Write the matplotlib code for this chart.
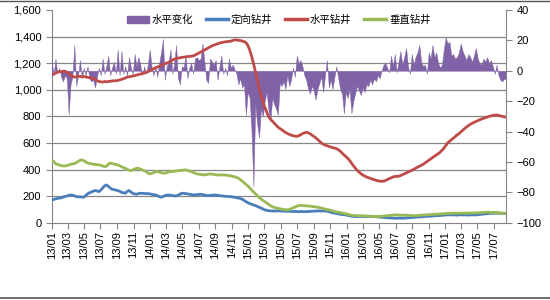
import pandas as pd
import numpy as np
import matplotlib
matplotlib.use('Agg')
import matplotlib.pyplot as plt
import matplotlib.dates as mdates
from matplotlib.lines import Line2D
from matplotlib.ticker import FuncFormatter

plt.rcParams['font.family'] = ['Liberation Sans', 'Noto Sans CJK SC']

# weekly rig counts, first week 2013-01-04
weeks = pd.date_range('2013-01-04', periods=242, freq='7D')

horizontal = [
    1112, 1118, 1125, 1132, 1137, 1135, 1140, 1140, 1132, 1122,
    1110, 1100, 1095, 1098, 1102, 1100, 1098, 1100, 1096, 1094,
    1090, 1088, 1087, 1080, 1070, 1062, 1060, 1058, 1062, 1060,
    1062, 1064, 1066, 1068, 1067, 1070, 1074, 1078, 1083, 1088,
    1095, 1097, 1100, 1104, 1106, 1110, 1114, 1118, 1122, 1126,
    1130, 1136, 1142, 1150, 1158, 1165, 1170, 1176, 1182, 1190,
    1195, 1200, 1206, 1213, 1222, 1230, 1234, 1238, 1240, 1243,
    1245, 1247, 1250, 1250, 1252, 1255, 1260, 1268, 1276, 1283,
    1290, 1298, 1306, 1314, 1322, 1330, 1335, 1340, 1346, 1350,
    1355, 1357, 1360, 1362, 1363, 1365, 1370, 1375, 1374, 1372,
    1370, 1366, 1362, 1355, 1335, 1300, 1255, 1200, 1140, 1080,
    1020, 960, 915, 870, 835, 800, 780, 765, 750, 735,
    720, 710, 700, 690, 680, 672, 665, 660, 655, 652,
    650, 655, 662, 670, 676, 680, 678, 670, 660, 650,
    640, 628, 615, 600, 592, 585, 580, 575, 570, 566,
    562, 558, 550, 540, 525, 512, 500, 485, 470, 450,
    430, 412, 395, 382, 370, 360, 352, 345, 340, 335,
    330, 325, 320, 316, 314, 312, 314, 318, 325, 332,
    338, 345, 348, 350, 350, 355, 362, 368, 375, 382,
    388, 395, 402, 410, 418, 425, 432, 440, 450, 460,
    470, 480, 490, 500, 510, 520, 530, 545, 560, 580,
    600, 612, 624, 635, 648, 660, 670, 683, 695, 708,
    720, 730, 740, 748, 755, 762, 768, 774, 780, 785,
    790, 795, 800, 804, 807, 810, 810, 808, 804, 800,
    797, 795,
]

directional = [
    173, 176, 180, 184, 186, 188, 194, 198, 202, 206,
    210, 208, 204, 198, 195, 196, 194, 193, 205, 218,
    226, 232, 238, 243, 240, 235, 245, 262, 278, 285,
    275, 262, 253, 250, 246, 243, 238, 230, 226, 223,
    236, 243, 232, 222, 218, 215, 220, 223, 222, 221,
    220, 220, 218, 215, 212, 210, 205, 198, 193, 198,
    205, 208, 210, 208, 205, 203, 203, 208, 215, 223,
    222, 220, 218, 216, 213, 211, 210, 212, 214, 215,
    213, 210, 207, 205, 206, 208, 210, 209, 207, 205,
    203, 202, 200, 199, 198, 197, 195, 193, 190, 187,
    183, 178, 170, 160, 152, 146, 140, 135, 130, 124,
    118, 112, 105, 98, 95, 92, 90, 90, 89, 90,
    90, 91, 89, 88, 88, 87, 88, 86, 85, 86,
    85, 84, 86, 85, 84, 85, 85, 86, 88, 88,
    89, 90, 90, 89, 90, 89, 88, 85, 80, 76,
    73, 71, 68, 65, 63, 61, 60, 57, 54, 51,
    49, 48, 47, 48, 49, 48, 48, 47, 48, 49,
    48, 48, 47, 45, 44, 42, 41, 40, 39, 38,
    37, 36, 35, 35, 36, 36, 35, 36, 37, 38,
    39, 40, 42, 43, 44, 45, 46, 47, 48, 49,
    50, 51, 52, 53, 54, 55, 56, 57, 58, 60,
    60, 61, 60, 60, 60, 59, 60, 61, 60, 60,
    60, 59, 60, 61, 60, 60, 62, 63, 65, 66,
    68, 69, 71, 73, 72, 72, 73, 72, 72, 72,
    71, 70,
]

vertical = [
    473, 462, 445, 440, 435, 430, 428, 428, 430, 435,
    440, 443, 445, 452, 462, 470, 473, 468, 458, 450,
    447, 444, 441, 439, 437, 436, 432, 428, 423, 425,
    440, 449, 446, 442, 438, 436, 430, 422, 415, 411,
    402, 396, 393, 398, 405, 410, 411, 405, 398, 393,
    385, 375, 368, 372, 378, 383, 386, 382, 378, 375,
    373, 378, 382, 386, 386, 388, 390, 392, 393, 395,
    397, 398, 394, 390, 386, 380, 374, 368, 366, 364,
    362, 360, 362, 366, 368, 366, 364, 362, 360, 360,
    360, 360, 360, 358, 355, 353, 350, 346, 342, 336,
    326, 315, 303, 290, 278, 263, 248, 234, 220, 206,
    192, 180, 170, 160, 150, 140, 130, 122, 116, 112,
    110, 106, 104, 101, 99, 98, 100, 106, 114, 118,
    125, 130, 132, 130, 129, 128, 127, 126, 124, 122,
    120, 118, 115, 112, 108, 104, 101, 98, 94, 90,
    86, 83, 80, 77, 74, 71, 69, 65, 62, 58,
    56, 55, 54, 54, 53, 53, 53, 52, 51, 50,
    49, 48, 48, 48, 49, 50, 52, 53, 54, 55,
    57, 59, 60, 60, 59, 58, 58, 58, 58, 57,
    56, 55, 55, 55, 56, 57, 58, 59, 60, 61,
    62, 63, 64, 65, 66, 66, 67, 68, 69, 70,
    71, 72, 72, 73, 73, 73, 72, 73, 74, 73,
    73, 74, 74, 75, 75, 75, 76, 77, 78, 79,
    80, 80, 80, 79, 79, 78, 78, 77, 75, 73,
    72, 72,
]

# weekly change of horizontal rigs (right axis)
horiz_change = [
    7, -3, 8, -2, 2, -4, -7, -3, -5, -29,
    -9, -4, 17, -10, -3, 7, -5, 2, -3, 3,
    -5, -7, -6, -11, -4, 2, -3, 8, -2, 3,
    10, -3, 2, 6, -2, 14, -3, 13, -2, 3,
    -3, 9, 2, -2, 11, 3, 9, 4, -3, 3,
    -2, 4, 14, 2, -3, 3, -4, 5, 12, 21,
    -6, 3, 6, 14, -2, 5, 17, -5, -9, 3,
    2, 10, -5, 2, 5, -2, 8, 9, 7, 8,
    18, 6, -6, -8, 8, 6, 4, 7, -6, 3,
    10, -2, 2, -3, 8, 2, 4, 1, -2, -9,
    -5, -11, -9, -29, -14, -18, -40, -76, -22, -35,
    -44, -25, -30, -20, -14, -26, -33, -18, -22, -25,
    -29, -8, -10, -7, -12, -3, -10, -6, 2, -4,
    10, 5, 7, 3, -3, -6, -12, -15, -10, -13,
    -19, -12, -8, -4, -14, -3, 7, -11, -6, -12,
    -4, 3, -5, -12, -15, -28, -14, -18, -12, -28,
    -20, -15, -10, -13, -16, -11, -14, -9, -10, -6,
    -9, -5, -7, -3, -5, 0, 4, 5, 2, -1,
    10, 3, 11, -1, 6, 13, 4, 9, 15, 3,
    -2, 11, 4, 9, 12, 17, 6, 3, 4, -2,
    12, 8, 17, 9, 12, 5, 2, 4, 14, 22,
    18, 19, 10, 11, 8, 9, 12, 18, 13, 10,
    7, 11, 9, 6, 10, 15, 8, 5, 4, 8,
    6, 9, 5, 7, 3, -2, 4, -3, -6, -7,
    -5, -6,
]

tick_dates = pd.date_range('2013-01-04', periods=28, freq=pd.DateOffset(months=2))

c_purple = '#7F63A6'
c_blue = '#4A7EBB'
c_red = '#BE4B48'
c_green = '#98B954'
c_axis = '#868686'

fig = plt.figure(figsize=(5.5, 3), dpi=100)
ax = fig.add_axes([0.094, 0.257, 0.826, 0.71])
ax_area = ax.twinx()
ax_lines = ax.twinx()

# left axis + grid
ax.set_ylim(0, 1600)
ax.set_yticks(range(0, 1601, 200))
ax.yaxis.set_major_formatter(FuncFormatter(lambda v, p: f'{int(v):,}'))
for y in range(200, 1401, 200):
    ax.axhline(y, color=c_axis, lw=0.9, zorder=0)

# area on right axis
ax_area.fill_between(weeks, 0, horiz_change, color=c_purple, lw=0.3, edgecolor=c_purple)
ax_area.set_ylim(-100, 40)
ax_area.set_yticks(range(-100, 41, 20))

# lines share the left scale
ax_lines.set_ylim(0, 1600)
ax_lines.plot(weeks, directional, color=c_blue, lw=2)
ax_lines.plot(weeks, horizontal, color=c_red, lw=2)
ax_lines.plot(weeks, vertical, color=c_green, lw=2)
ax_lines.set_yticks([])
for s in ax_lines.spines.values():
    s.set_visible(False)

for a in (ax, ax_area, ax_lines):
    a.set_xlim(weeks[0], weeks[-1])
    a.spines['top'].set_visible(False)

ax.set_xticks(tick_dates)
ax.xaxis.set_major_formatter(mdates.DateFormatter('%y/%m'))
plt.setp(ax.get_xticklabels(), rotation=90)

for a in (ax, ax_area):
    for s in ('left', 'right', 'bottom'):
        a.spines[s].set_color(c_axis)
    a.tick_params(colors=c_axis, labelcolor='black', labelsize=8, length=4, width=0.8)
ax.spines['right'].set_visible(False)
ax_area.spines['left'].set_visible(False)
ax_area.spines['bottom'].set_visible(False)
ax.tick_params(axis='x', pad=2)

handles = [
    plt.Rectangle((0, 0), 1, 1, color=c_purple),
    Line2D([], [], color=c_blue, lw=2.5),
    Line2D([], [], color=c_red, lw=2.5),
    Line2D([], [], color=c_green, lw=2.5),
]
ax_lines.legend(handles, ['水平变化', '定向钻井', '水平钻井', '垂直钻井'],
                loc='center', bbox_to_anchor=(0.5, 0.953), ncol=4, frameon=False,
                fontsize=7.5, handlelength=2.1, handletextpad=0.3, columnspacing=1.2,
                prop={'family': ['Noto Sans CJK SC'], 'size': 7.5})

# frame lines at image top and bottom
fig.add_artist(Line2D([0, 1], [0.998, 0.998], transform=fig.transFigure, color='#555555', lw=1))
fig.add_artist(Line2D([0, 1], [0.007, 0.007], transform=fig.transFigure, color='#555555', lw=1.2))

fig.savefig('out.png', dpi=100)
